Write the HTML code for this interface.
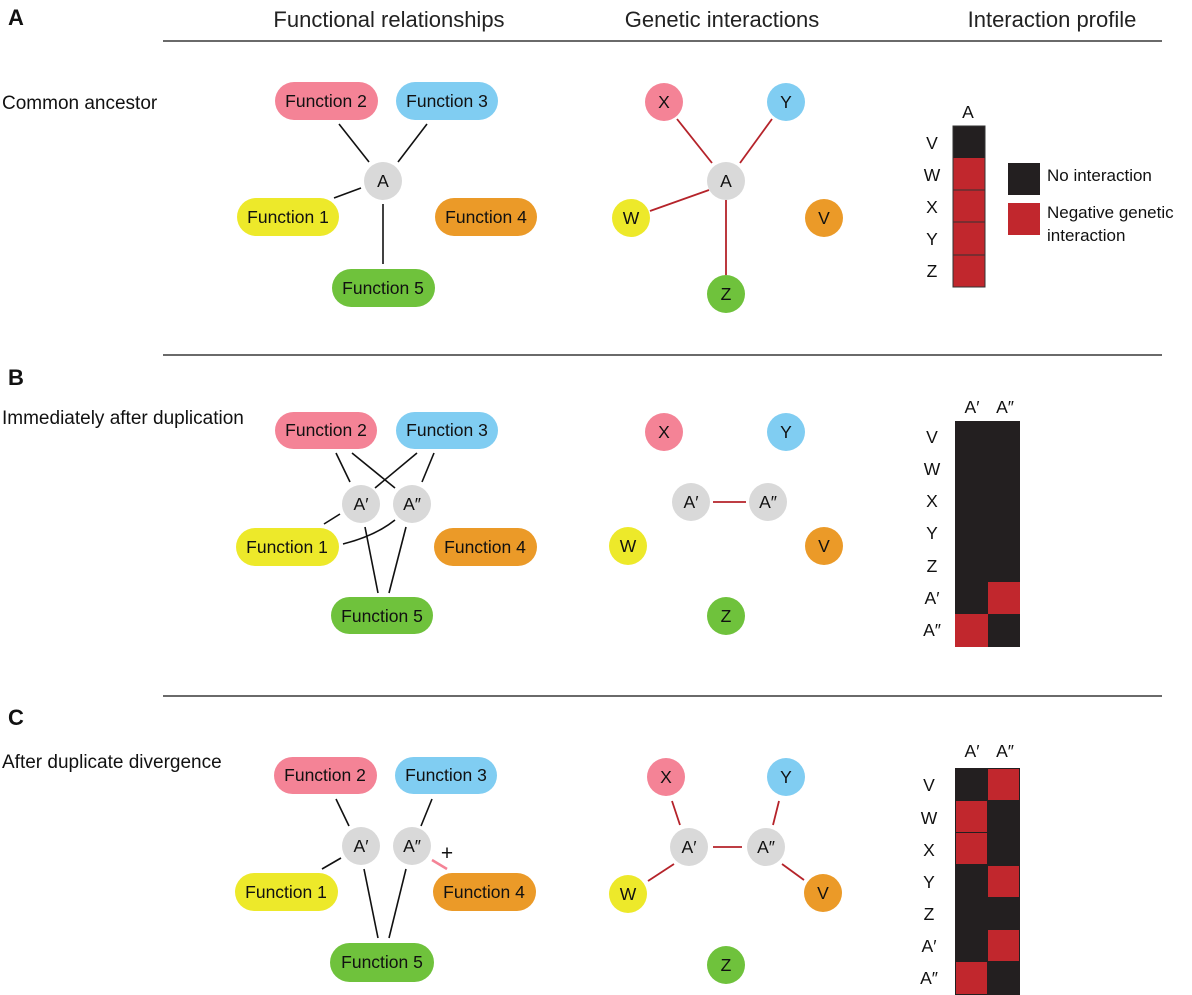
<!DOCTYPE html>
<html><head><meta charset="utf-8"><style>
html,body{margin:0;padding:0;background:#fff;}
svg{display:block;font-family:"Liberation Sans",Arial,sans-serif;}
</style></head><body>
<svg width="1192" height="995" viewBox="0 0 1192 995" xmlns="http://www.w3.org/2000/svg">
<defs>
<style>
.f{font-size:17.5px;fill:#111;text-anchor:middle;dominant-baseline:central;}
.h{font-size:22px;fill:#222;text-anchor:middle;}
.L{font-size:22px;font-weight:bold;fill:#111;}
.s{font-size:19px;fill:#111;}
.g{font-size:17px;fill:#111;}
.k{stroke:#111;stroke-width:1.6;fill:none;}
.r{stroke:#b5232a;stroke-width:1.8;fill:none;}
</style>
</defs>
<text class="L" x="8" y="25">A</text>
<text class="h" x="389" y="27">Functional relationships</text>
<text class="h" x="722" y="27">Genetic interactions</text>
<text class="h" x="1052" y="27">Interaction profile</text>
<line x1="163" y1="41" x2="1162" y2="41" stroke="#111" stroke-width="1.3"/>
<line x1="163" y1="355" x2="1162" y2="355" stroke="#111" stroke-width="1.3"/>
<line x1="163" y1="696" x2="1162" y2="696" stroke="#111" stroke-width="1.3"/>
<text class="L" x="8" y="385">B</text>
<text class="L" x="8" y="725">C</text>
<text class="s" x="2" y="109">Common ancestor</text>
<text class="s" x="2" y="424">Immediately after duplication</text>
<text class="s" x="2" y="768">After duplicate divergence</text>

<line class="k" x1="339" y1="124" x2="369" y2="162"/>
<line class="k" x1="427" y1="124" x2="398" y2="162"/>
<line class="k" x1="361" y1="188" x2="334" y2="198"/>
<line class="k" x1="383" y1="204" x2="383" y2="264"/>
<rect x="275" y="82" width="103" height="38" rx="19" fill="#f48396"/><text class="f" x="326" y="101">Function 2</text>
<rect x="396" y="82" width="102" height="38" rx="19" fill="#80cdf2"/><text class="f" x="447" y="101">Function 3</text>
<rect x="237" y="198" width="102" height="38" rx="19" fill="#ede92a"/><text class="f" x="288" y="217">Function 1</text>
<rect x="435" y="198" width="102" height="38" rx="19" fill="#eb9a28"/><text class="f" x="486" y="217">Function 4</text>
<rect x="332" y="269" width="103" height="38" rx="19" fill="#6fc23c"/><text class="f" x="383" y="288">Function 5</text>
<circle cx="383" cy="181" r="19" fill="#d9d9d9"/><text class="f" x="383" y="181">A</text>

<line class="r" x1="677" y1="119" x2="712" y2="163"/>
<line class="r" x1="772" y1="119" x2="740" y2="163"/>
<line class="r" x1="709" y1="190" x2="650" y2="211"/>
<line class="r" x1="726" y1="200" x2="726" y2="275"/>
<circle cx="664" cy="102" r="19" fill="#f48396"/><text class="f" x="664" y="102">X</text>
<circle cx="786" cy="102" r="19" fill="#80cdf2"/><text class="f" x="786" y="102">Y</text>
<circle cx="726" cy="181" r="19" fill="#d9d9d9"/><text class="f" x="726" y="181">A</text>
<circle cx="631" cy="218" r="19" fill="#ede92a"/><text class="f" x="631" y="218">W</text>
<circle cx="824" cy="218" r="19" fill="#eb9a28"/><text class="f" x="824" y="218">V</text>
<circle cx="726" cy="294" r="19" fill="#6fc23c"/><text class="f" x="726" y="294">Z</text>

<text class="f" x="968" y="112">A</text>
<rect x="953" y="126" width="32" height="32" fill="#231f20"/>
<rect x="953" y="158" width="32" height="129" fill="#c1272d"/>
<g stroke="#333" stroke-width="1" fill="none"><rect x="953" y="126" width="32" height="161"/>
<line x1="953" y1="190" x2="985" y2="190"/><line x1="953" y1="222" x2="985" y2="222"/><line x1="953" y1="255" x2="985" y2="255"/></g>
<text class="f" x="932" y="143">V</text><text class="f" x="932" y="175">W</text><text class="f" x="932" y="207">X</text><text class="f" x="932" y="239">Y</text><text class="f" x="932" y="271">Z</text>
<rect x="1008" y="163" width="32" height="32" fill="#231f20"/>
<rect x="1008" y="203" width="32" height="32" fill="#c1272d"/>
<text class="g" x="1047" y="181">No interaction</text>
<text class="g" x="1047" y="218">Negative genetic</text>
<text class="g" x="1047" y="241">interaction</text>

<line class="k" x1="336" y1="453" x2="350" y2="482"/>
<line class="k" x1="352" y1="453" x2="395" y2="488"/>
<line class="k" x1="417" y1="453" x2="375" y2="488"/>
<line class="k" x1="434" y1="453" x2="422" y2="482"/>
<line class="k" x1="340" y1="514" x2="324" y2="524"/>
<path class="k" d="M395 520 Q375 536 343 544"/>
<line class="k" x1="365" y1="527" x2="378" y2="593"/>
<line class="k" x1="406" y1="527" x2="389" y2="593"/>
<rect x="275" y="412" width="102" height="37" rx="18.5" fill="#f48396"/><text class="f" x="326" y="430">Function 2</text>
<rect x="396" y="412" width="102" height="37" rx="18.5" fill="#80cdf2"/><text class="f" x="447" y="430">Function 3</text>
<rect x="236" y="528" width="103" height="38" rx="19" fill="#ede92a"/><text class="f" x="287" y="547">Function 1</text>
<rect x="434" y="528" width="103" height="38" rx="19" fill="#eb9a28"/><text class="f" x="485" y="547">Function 4</text>
<rect x="331" y="597" width="102" height="37" rx="18.5" fill="#6fc23c"/><text class="f" x="382" y="616">Function 5</text>
<circle cx="361" cy="504" r="19" fill="#d9d9d9"/><text class="f" x="361" y="504">A′</text>
<circle cx="412" cy="504" r="19" fill="#d9d9d9"/><text class="f" x="412" y="504">A″</text>

<line class="r" x1="713" y1="502" x2="746" y2="502"/>
<circle cx="664" cy="432" r="19" fill="#f48396"/><text class="f" x="664" y="432">X</text>
<circle cx="786" cy="432" r="19" fill="#80cdf2"/><text class="f" x="786" y="432">Y</text>
<circle cx="691" cy="502" r="19" fill="#d9d9d9"/><text class="f" x="691" y="502">A′</text>
<circle cx="768" cy="502" r="19" fill="#d9d9d9"/><text class="f" x="768" y="502">A″</text>
<circle cx="628" cy="546" r="19" fill="#ede92a"/><text class="f" x="628" y="546">W</text>
<circle cx="824" cy="546" r="19" fill="#eb9a28"/><text class="f" x="824" y="546">V</text>
<circle cx="726" cy="616" r="19" fill="#6fc23c"/><text class="f" x="726" y="616">Z</text>

<text class="f" x="972" y="407">A′</text><text class="f" x="1005" y="407">A″</text>
<rect x="955" y="421" width="65" height="226" fill="#231f20"/>
<rect x="988" y="582" width="32" height="32" fill="#c1272d"/>
<rect x="955" y="614" width="33" height="33" fill="#c1272d"/>
<text class="f" x="932" y="437">V</text><text class="f" x="932" y="469">W</text><text class="f" x="932" y="501">X</text><text class="f" x="932" y="533">Y</text><text class="f" x="932" y="566">Z</text><text class="f" x="932" y="598">A′</text><text class="f" x="932" y="630">A″</text>

<line class="k" x1="336" y1="799" x2="349" y2="826"/>
<line class="k" x1="432" y1="799" x2="421" y2="826"/>
<line class="k" x1="341" y1="858" x2="322" y2="869"/>
<line class="k" x1="364" y1="869" x2="378" y2="938"/>
<line class="k" x1="406" y1="869" x2="389" y2="938"/>
<line x1="432" y1="860" x2="447" y2="869" stroke="#f48396" stroke-width="2.5"/>
<text x="447" y="860" font-size="21" text-anchor="middle" fill="#111">+</text>
<rect x="274" y="757" width="103" height="37" rx="18.5" fill="#f48396"/><text class="f" x="325" y="775">Function 2</text>
<rect x="395" y="757" width="102" height="37" rx="18.5" fill="#80cdf2"/><text class="f" x="446" y="775">Function 3</text>
<rect x="235" y="873" width="103" height="38" rx="19" fill="#ede92a"/><text class="f" x="286" y="892">Function 1</text>
<rect x="433" y="873" width="103" height="38" rx="19" fill="#eb9a28"/><text class="f" x="484" y="892">Function 4</text>
<rect x="330" y="943" width="104" height="39" rx="19.5" fill="#6fc23c"/><text class="f" x="382" y="962">Function 5</text>
<circle cx="361" cy="846" r="19" fill="#d9d9d9"/><text class="f" x="361" y="846">A′</text>
<circle cx="412" cy="846" r="19" fill="#d9d9d9"/><text class="f" x="412" y="846">A″</text>

<line class="r" x1="672" y1="801" x2="680" y2="825"/>
<line class="r" x1="779" y1="801" x2="773" y2="825"/>
<line class="r" x1="713" y1="847" x2="742" y2="847"/>
<line class="r" x1="674" y1="864" x2="648" y2="881"/>
<line class="r" x1="782" y1="864" x2="804" y2="880"/>
<circle cx="666" cy="777" r="19" fill="#f48396"/><text class="f" x="666" y="777">X</text>
<circle cx="786" cy="777" r="19" fill="#80cdf2"/><text class="f" x="786" y="777">Y</text>
<circle cx="689" cy="847" r="19" fill="#d9d9d9"/><text class="f" x="689" y="847">A′</text>
<circle cx="766" cy="847" r="19" fill="#d9d9d9"/><text class="f" x="766" y="847">A″</text>
<circle cx="628" cy="894" r="19" fill="#ede92a"/><text class="f" x="628" y="894">W</text>
<circle cx="823" cy="893" r="19" fill="#eb9a28"/><text class="f" x="823" y="893">V</text>
<circle cx="726" cy="965" r="19" fill="#6fc23c"/><text class="f" x="726" y="965">Z</text>

<text class="f" x="972" y="751">A′</text><text class="f" x="1005" y="751">A″</text>
<rect x="955" y="768" width="65" height="227" fill="#231f20"/>
<g fill="#c1272d">
<rect x="988" y="769" width="31" height="31"/>
<rect x="956" y="801" width="31" height="31"/>
<rect x="956" y="833" width="31" height="31"/>
<rect x="988" y="866" width="31" height="31"/>
<rect x="988" y="930" width="31" height="31"/>
<rect x="956" y="962" width="31" height="32"/>
</g>
<text class="f" x="929" y="785">V</text><text class="f" x="929" y="818">W</text><text class="f" x="929" y="850">X</text><text class="f" x="929" y="882">Y</text><text class="f" x="929" y="914">Z</text><text class="f" x="929" y="946">A′</text><text class="f" x="929" y="978">A″</text>
</svg>
</body></html>
